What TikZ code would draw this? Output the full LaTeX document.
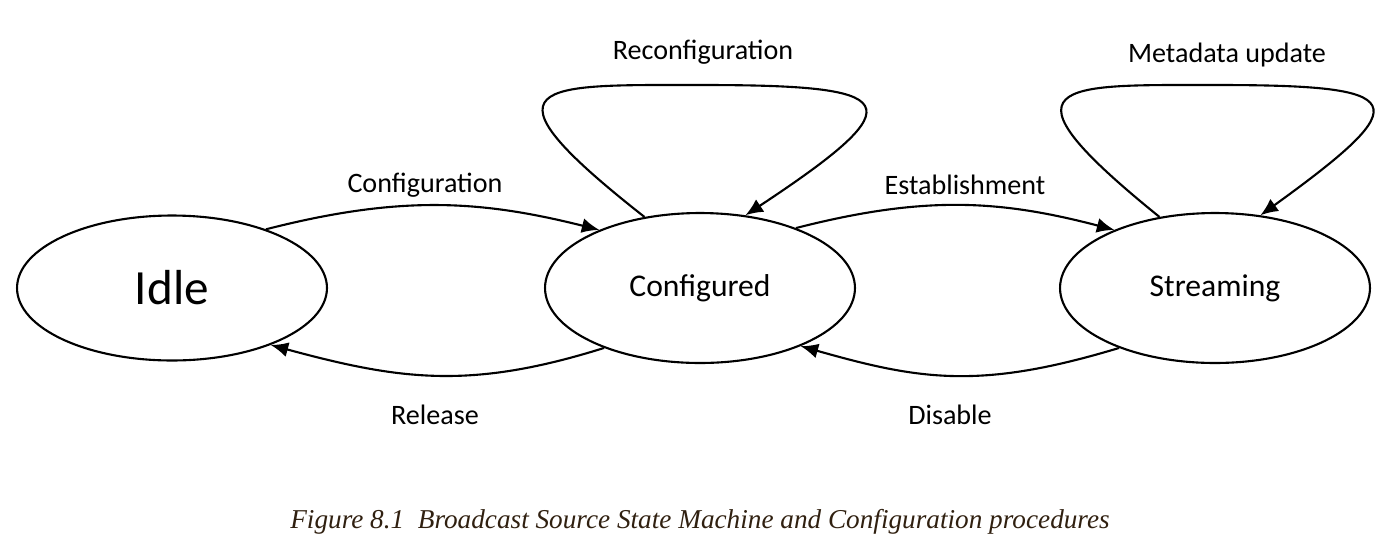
\documentclass[tikz,border=0pt]{standalone}
\usepackage{fontspec}
\setmainfont{Carlito}
\newfontfamily\capfont{Liberation Serif}
\usetikzlibrary{shapes.geometric,arrows.meta}
\begin{document}
\begin{tikzpicture}[
        x=0.02cm,
        y=-0.02cm,
        state/.style={
            ellipse,
            draw,
            line width=1.2pt,
            minimum width=6.2cm,
            minimum height=3cm,
            inner sep=0pt,
            font=\fontsize{18}{20}\selectfont
        },
        line/.style={
            draw,
            line width=1.2pt,
            -{Latex[length=3.5mm,width=3mm]}
        },
        lbl/.style={
            font=\fontsize{16}{18}\selectfont
        },
      ]
        \useasboundingbox (0,0) rectangle (1400,552);
        \node [state,minimum height=2.9cm,font=\fontsize{28}{30}\selectfont] (idle) at (172,288) {Idle};
        \node [state] (configured) at (700,288) {Configured};
        \node [state] (streaming) at (1215,288) {Streaming};
        \node [lbl] (configuration) at (425,185) {Configuration};
        \node [lbl] (release) at (435,415) {Release};
        \node [lbl] (establishment) at (965,185) {Establishment};
        \node [lbl] (disable) at (950,415) {Disable};
        \node [lbl] (reconfiguration) at (703,52) {Reconfiguration};
        \node [lbl] (metadata) at (1227,55) {Metadata update};
        \path [line] (idle.32) .. controls (400,195) and (480,200) .. (configured.150);
        \path [line] (configured.32) .. controls (925,195) and (1000,200) .. (streaming.150);
        \path [line] (configured.-148) .. controls (470,390) and (400,380) .. (idle.-30);
        \path [line] (streaming.-148) .. controls (980,390) and (920,380) .. (configured.-30);
        \path [line] (configured.128) .. controls (470,80) and (540,85) .. (700,85) .. controls (900,85) and (920,100) .. (configured.58);
        \path [line] (streaming.128) .. controls (990,80) and (1060,85) .. (1215,85) .. controls (1410,85) and (1420,100) .. (streaming.58);
        \node [font=\capfont\itshape\fontsize{15.5}{18}\selectfont,text=black!75!brown] (caption) at (700,522) {Figure 8.1\ \ Broadcast Source State Machine and Configuration procedures};
      \end{tikzpicture}
\end{document}
